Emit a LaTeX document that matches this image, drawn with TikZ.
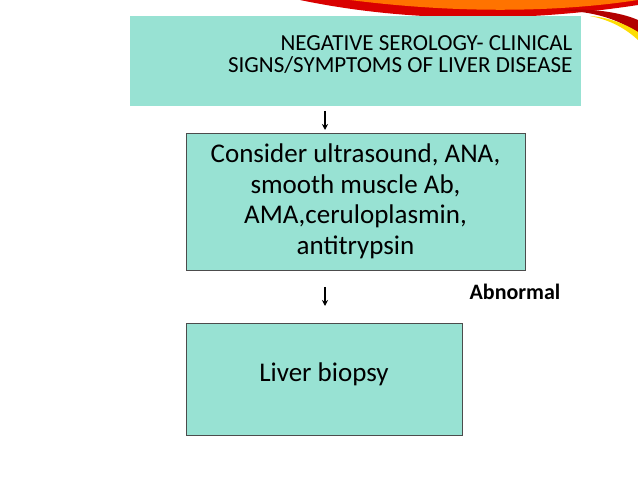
\documentclass[tikz,border=0pt]{standalone}
\usepackage{fontspec}
\usetikzlibrary{arrows.meta}
\setmainfont{Carlito}
\begin{document}
\begin{tikzpicture}[x=1pt,y=-1pt,
  tbox/.style={fill=mint,draw=black!70,line width=0.6pt},
  arr/.style={-{Stealth[length=6pt,width=6pt]},line width=1.3pt}]
\definecolor{mint}{HTML}{98E2D3}
\useasboundingbox (0,0) rectangle (638,478);
\fill[white] (0,0) rectangle (638,478);
% decoration
\fill[red!85!black] (300,0) .. controls (420,25) and (540,20) .. (638,5) -- (638,0) -- cycle;
\fill[orange!90!red] (350,0) .. controls (460,14) and (560,12) .. (638,0) -- cycle;
\fill[red!70!black] (560,10) .. controls (600,12) and (625,22) .. (638,35) -- (638,20) .. controls (620,12) and (590,8) .. (560,10) -- cycle;
\fill[yellow!80!orange] (590,16) .. controls (610,20) and (625,28) .. (638,40) -- (638,32) .. controls (622,22) and (605,17) .. (590,16) -- cycle;
% boxes
\node[fill=mint,minimum width=451pt,minimum height=90pt,inner sep=0pt] (top) at (355.5,61) {};
\node[anchor=east,align=right,font=\fontsize{23}{22}\selectfont] at (576,55) {NEGATIVE SEROLOGY- CLINICAL\\SIGNS/SYMPTOMS OF LIVER DISEASE};
\node[tbox,minimum width=339pt,minimum height=137pt,inner sep=0pt,align=center,
  font=\fontsize{27}{30.5}\selectfont] (mid) at (355.5,201.5)
  {Consider ultrasound, ANA,\\smooth muscle Ab,\\AMA,ceruloplasmin,\\antitrypsin};
\node[tbox,minimum width=276pt,minimum height=112pt,inner sep=0pt] (bot) at (324,379) {};
\node[font=\fontsize{27}{30}\selectfont] at (324,374) {Liver biopsy};
\node[font=\bfseries\fontsize{22}{24}\selectfont] (abn) at (515,292) {Abnormal};
\coordinate (a1) at (325,111); \coordinate (a2) at (325,130);
\coordinate (b1) at (325,287); \coordinate (b2) at (325,306);
\draw[arr] (a1) -- (a2);
\draw[arr] (b1) -- (b2);
\end{tikzpicture}
\end{document}
